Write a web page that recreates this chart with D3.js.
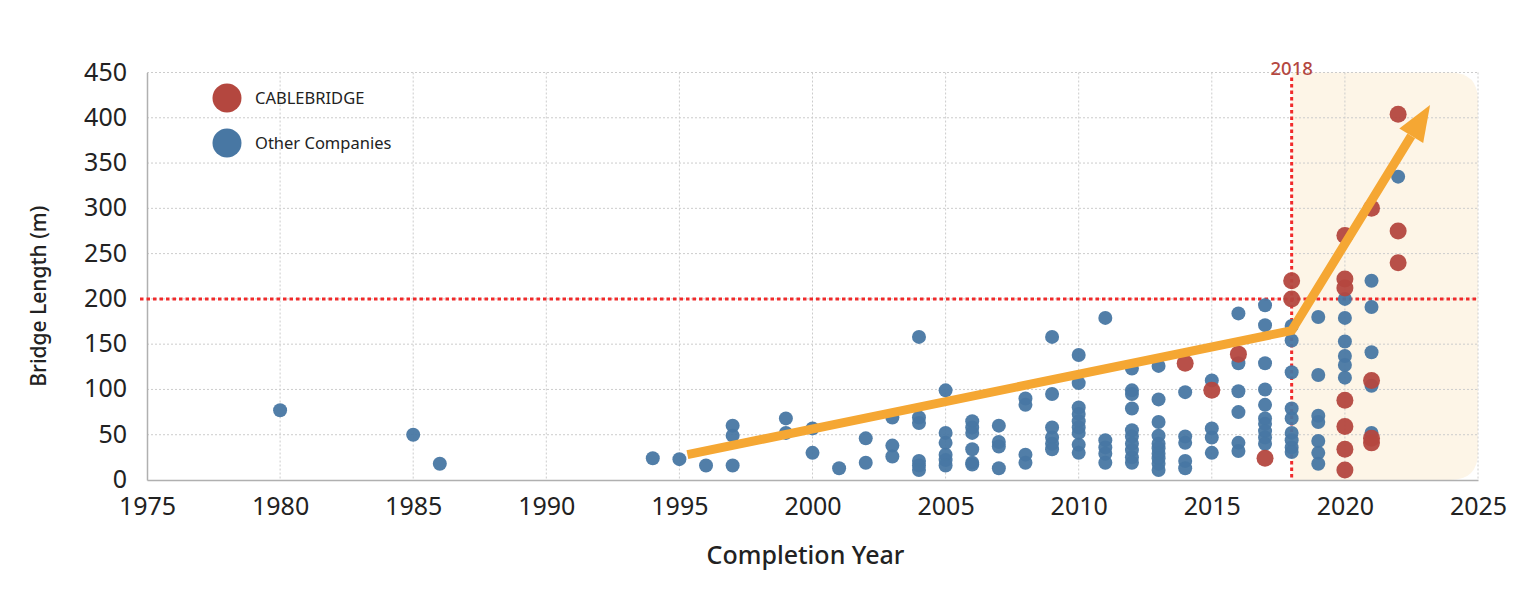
<!DOCTYPE html>
<html>
<head>
<meta charset="utf-8">
<script src="https://cdn.jsdelivr.net/npm/d3@7"></script>
<style>
  body { margin: 0; background: #fff; }
  text { font-family: "Noto Sans", sans-serif; }
</style>
</head>
<body>
<div id="chart"></div>
<script>
// [year, length in m]
const cableBridge = [
    [2014, 129], [2015, 99], [2016, 139], [2017, 24],
    [2018, 220], [2018, 200],
    [2020, 270], [2020, 222], [2020, 212], [2020, 88], [2020, 59], [2020, 34], [2020, 11],
    [2021, 300], [2021, 110], [2021, 46], [2021, 41],
    [2022, 404], [2022, 275], [2022, 240]
];

const otherCompanies = [
    [1980, 77], [1985, 50], [1986, 18], [1994, 24], [1995, 23], [1996, 16],
    [1997, 60], [1997, 49], [1997, 16],
    [1999, 68], [1999, 52],
    [2000, 57], [2000, 30],
    [2001, 13],
    [2002, 46], [2002, 19],
    [2003, 69], [2003, 38], [2003, 26],
    [2004, 158], [2004, 69], [2004, 63], [2004, 21], [2004, 16], [2004, 11],
    [2005, 99], [2005, 52], [2005, 41], [2005, 28], [2005, 22], [2005, 16],
    [2006, 65], [2006, 58], [2006, 52], [2006, 34], [2006, 19], [2006, 17],
    [2007, 60], [2007, 42], [2007, 37], [2007, 13],
    [2008, 90], [2008, 83], [2008, 28], [2008, 19],
    [2009, 158], [2009, 95], [2009, 58], [2009, 47], [2009, 40], [2009, 34],
    [2010, 138], [2010, 107], [2010, 80], [2010, 73], [2010, 65], [2010, 58], [2010, 52], [2010, 39], [2010, 30],
    [2011, 179], [2011, 44], [2011, 36], [2011, 29], [2011, 19],
    [2012, 123], [2012, 99], [2012, 95], [2012, 79], [2012, 55], [2012, 48], [2012, 40], [2012, 33], [2012, 25], [2012, 19],
    [2013, 126], [2013, 89], [2013, 64], [2013, 49], [2013, 40], [2013, 35], [2013, 29], [2013, 24], [2013, 18], [2013, 11],
    [2014, 97], [2014, 48], [2014, 41], [2014, 21], [2014, 13],
    [2015, 110], [2015, 57], [2015, 47], [2015, 30],
    [2016, 184], [2016, 129], [2016, 98], [2016, 75], [2016, 41], [2016, 32],
    [2017, 193], [2017, 171], [2017, 129], [2017, 100], [2017, 83], [2017, 68], [2017, 62], [2017, 54], [2017, 47], [2017, 40],
    [2018, 170], [2018, 154], [2018, 119], [2018, 79], [2018, 68], [2018, 52], [2018, 44], [2018, 36], [2018, 31],
    [2019, 180], [2019, 116], [2019, 71], [2019, 64], [2019, 43], [2019, 30], [2019, 18],
    [2020, 200], [2020, 179], [2020, 153], [2020, 137], [2020, 127], [2020, 113],
    [2021, 220], [2021, 191], [2021, 141], [2021, 104], [2021, 52],
    [2022, 335]
];

// trend arrow drawn over the points
const trendYears = [1995.3, 2018, 2023.2];
const trendLengths = [28, 165, 414];

const xTicks = [1975, 1980, 1985, 1990, 1995, 2000, 2005, 2010, 2015, 2020, 2025];
const yTicks = [0, 50, 100, 150, 200, 250, 300, 350, 400, 450];
const markYear = 2018;
const markLength = 200;

const margin = {top: 72.5, right: 58, bottom: 121, left: 147},
    width = 1536 - margin.left - margin.right,
    height = 601 - margin.top - margin.bottom;

const red = "#b4473f", blue = "#4877a3", orange = "#f5a733";

const x = d3.scaleLinear().domain([1975, 2025]).range([0, width]);
const y = d3.scaleLinear().domain([0, 450]).range([height, 0]);

const svg = d3.select("#chart").append("svg")
    .attr("width", 1536)
    .attr("height", 601)
    .append("g")
    .attr("transform", "translate(" + margin.left + "," + margin.top + ")");

// shaded area after 2018, rounded on the right
const sx0 = x(markYear), sx1 = x(2025), sy0 = 0, sy1 = height, r = 28;
svg.append("path")
    .attr("fill", "#fdf5e7")
    .attr("d", "M" + sx0 + "," + sy0 + "H" + (sx1 - r) +
        "Q" + sx1 + "," + sy0 + " " + sx1 + "," + (sy0 + r) +
        "V" + (sy1 - r) +
        "Q" + sx1 + "," + sy1 + " " + (sx1 - r) + "," + sy1 +
        "H" + sx0 + "Z");

// grid
svg.append("g").selectAll("line")
    .data(yTicks.slice(1))
    .enter().append("line")
    .attr("x1", 0).attr("x2", width)
    .attr("y1", d => y(d)).attr("y2", d => y(d))
    .attr("stroke", "#cccccc")
    .attr("stroke-dasharray", "2,2");

svg.append("g").selectAll("line")
    .data(xTicks.slice(1))
    .enter().append("line")
    .attr("x1", d => x(d)).attr("x2", d => x(d))
    .attr("y1", 0).attr("y2", height)
    .attr("stroke", "#cccccc")
    .attr("stroke-dasharray", "2,2");

// axes
const xAxis = svg.append("g")
    .attr("transform", "translate(0," + height + ")")
    .call(d3.axisBottom(x).tickValues(xTicks).tickFormat(d3.format("d")).tickSize(0).tickPadding(17));
xAxis.select(".domain").attr("stroke", "#b0b0b0").attr("stroke-width", 1.5);
xAxis.selectAll("text").attr("font-size", "25px").attr("fill", "#222").attr("font-family", "Noto Sans");

const yAxis = svg.append("g")
    .call(d3.axisLeft(y).tickValues(yTicks).tickSize(0).tickPadding(20));
yAxis.select(".domain").attr("stroke", "#b0b0b0").attr("stroke-width", 1.5);
yAxis.selectAll("text").attr("font-size", "25px").attr("fill", "#222").attr("font-family", "Noto Sans")
    .attr("dy", "0.3em");

// red reference lines
svg.append("line")
    .attr("x1", -7).attr("x2", width)
    .attr("y1", y(markLength)).attr("y2", y(markLength))
    .attr("stroke", "#f02a2a").attr("stroke-width", 3)
    .attr("stroke-dasharray", "3.5,3");

svg.append("line")
    .attr("x1", x(markYear)).attr("x2", x(markYear))
    .attr("y1", 5).attr("y2", height)
    .attr("stroke", "#f02a2a").attr("stroke-width", 3)
    .attr("stroke-dasharray", "3.5,3");

svg.append("text")
    .attr("x", x(markYear))
    .attr("y", 2)
    .attr("text-anchor", "middle")
    .attr("font-size", "18.5px")
    .attr("font-weight", 500)
    .attr("fill", red)
    .text("2018");

// points
svg.append("g").selectAll("circle")
    .data(otherCompanies)
    .enter().append("circle")
    .attr("cx", d => x(d[0]))
    .attr("cy", d => y(d[1]))
    .attr("r", 7)
    .attr("fill", blue)
    .attr("fill-opacity", 0.95);

svg.append("g").selectAll("circle")
    .data(cableBridge)
    .enter().append("circle")
    .attr("cx", d => x(d[0]))
    .attr("cy", d => y(d[1]))
    .attr("r", 8.5)
    .attr("fill", red)
    .attr("fill-opacity", 0.95);

// trend arrow
const pts = trendYears.map((t, i) => [x(t), y(trendLengths[i])]);
const tip = pts[2], prev = pts[1];
const ang = Math.atan2(tip[1] - prev[1], tip[0] - prev[0]);
const headLen = 36, headHalf = 14;
const base = [tip[0] - headLen * Math.cos(ang), tip[1] - headLen * Math.sin(ang)];

svg.append("path")
    .attr("d", d3.line()([pts[0], pts[1], base]))
    .attr("fill", "none")
    .attr("stroke", orange)
    .attr("stroke-width", 9)
    .attr("stroke-linejoin", "miter");

svg.append("path")
    .attr("fill", orange)
    .attr("d", "M" + tip[0] + "," + tip[1] +
        "L" + (base[0] + headHalf * Math.sin(ang)) + "," + (base[1] - headHalf * Math.cos(ang)) +
        "L" + (base[0] - headHalf * Math.sin(ang)) + "," + (base[1] + headHalf * Math.cos(ang)) + "Z");

// axis titles
svg.append("text")
    .attr("transform", "translate(" + (-101) + "," + (height / 2 + 20) + ") rotate(-90)")
    .attr("text-anchor", "middle")
    .attr("font-size", "21px")
    .attr("font-weight", 500)
    .attr("fill", "#222")
    .text("Bridge Length (m)");

svg.append("text")
    .attr("x", width / 2 - 7)
    .attr("y", height + 84)
    .attr("text-anchor", "middle")
    .attr("font-size", "25px")
    .attr("font-weight", 500)
    .attr("fill", "#222")
    .text("Completion Year");

// legend
const legend = svg.append("g").attr("transform", "translate(80,25.5)");
const legendItems = [["CABLEBRIDGE", red], ["Other Companies", blue]];
legend.selectAll("circle")
    .data(legendItems)
    .enter().append("circle")
    .attr("cx", 0)
    .attr("cy", (d, i) => i * 45)
    .attr("r", 14.5)
    .attr("fill", d => d[1]);
legend.selectAll("text")
    .data(legendItems)
    .enter().append("text")
    .attr("x", 28)
    .attr("y", (d, i) => i * 45 + 6)
    .attr("font-size", "16.5px")
    .attr("fill", "#222")
    .text(d => d[0]);
</script>
</body>
</html>
